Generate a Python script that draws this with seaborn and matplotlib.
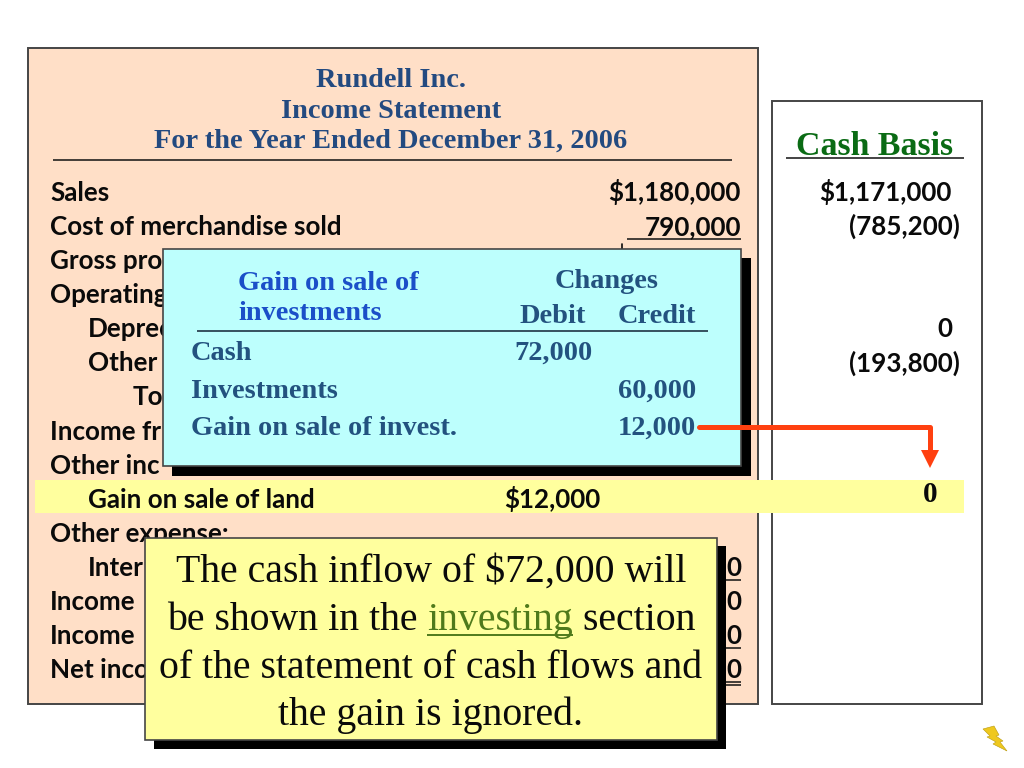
# income statement slide, cash basis column
import matplotlib
matplotlib.use("Agg")
import matplotlib.pyplot as plt
from matplotlib.patches import Rectangle, Polygon
import seaborn as sns

sns.set_theme(style="white")
SANS = "Lato"
SERIF = "Liberation Serif"

# Data (only what the boxes leave visible)
title_lines = ["Rundell Inc.", "Income Statement", "For the Year Ended December 31, 2006"]
row_labels = ["Sales", "Cost of merchandise sold", "Gross pro", "Operating",
              "Deprec", "Other", "Tot",
              "Income fr", "Other inc", "Gain on sale of land", "Other expense:",
              "Inter", "Income", "Income", "Net inco"]
row_indent = [0, 0, 0, 0, 1, 1, 2, 0, 0, 1, 0, 1, 0, 0, 0]
accrual_values = ["$1,180,000", "790,000", "", "", "", "", "", "", "", "", "",
                  "0", "0", "0", "0"]
underlined_rows = {1: 1, 11: 1, 13: 1, 14: 2}
cash_values = ["$1,171,000", "(785,200)", "", "", "0", "(193,800)"]
cash_right_pad = [1, 0, 0, 0, 1, 0]
entry_labels = ["Cash", "Investments", "Gain on sale of invest."]
entry_debit = ["72,000", "", ""]
entry_credit = ["", "60,000", "12,000"]
note_lines = ["The cash inflow of $72,000 will", None,
              "of the statement of cash flows and", "the gain is ignored."]
note_parts = ["be shown in the ", "investing", " section"]

PEACH = "#FFDFC7"
EDGE = "#454545"
CYAN = "#BDFFFD"
YELLOW = "#FFFF9E"
NAVY = "#23527F"
TITLE = "#234A80"
ORANGE = "#FF4010"
INK = "#0A0A0A"
ROW_SIZE = 18.7
ENTRY_SIZE = 20.4
NOTE_SIZE = 28.6

fig = plt.figure(figsize=(10.24, 7.68), dpi=100, facecolor="white")
ax = fig.add_axes([0, 0, 1, 1])
ax.set_xlim(0, 1024)
ax.set_ylim(768, 0)
ax.axis("off")


def box(x0, y0, x1, y1, fc, ec=EDGE, lw=1.4, z=1):
    ax.add_patch(Rectangle((x0, y0), x1 - x0, y1 - y0, fc=fc, ec=ec, lw=lw, zorder=z))


def hline(x0, x1, y, color="#111111", lw=1.1, z=3):
    ax.plot([x0, x1], [y, y], color=color, lw=lw, zorder=z, solid_capstyle="butt")


# main panels
box(28, 48, 758, 704, PEACH)
box(772, 101, 982, 704, "white")
box(35, 480, 964, 513, YELLOW, ec="none", lw=0, z=2)

# heading
for i, line in enumerate(title_lines):
    ax.text(391, 87 + i * 30.5, line, ha="center", va="baseline", family=SERIF,
            weight="bold", fontsize=20.4, color=TITLE, zorder=3)
hline(53, 732, 160)
ax.text(875, 155, "Cash Basis", ha="center", va="baseline", family=SERIF, weight="bold",
        fontsize=24.4, color="#0A6B14", zorder=3)
hline(786, 964, 158)

# statement rows
for i, (label, ind, val) in enumerate(zip(row_labels, row_indent, accrual_values)):
    y = 201 + i * 34.08
    ax.text(50 + [0, 38, 83][ind], y, label, ha="left", va="baseline", family=SANS,
            weight="bold", fontsize=ROW_SIZE, color=INK, zorder=3)
    if val:
        ax.text(741, y, val, ha="right", va="baseline", family=SANS, weight="bold",
                fontsize=ROW_SIZE, color=INK, zorder=3)
    if i in underlined_rows:
        hline(627, 741, y + 4)
        if underlined_rows[i] == 2:
            hline(627, 741, y + 7)
ax.text(600, 201 + 9 * 34.08, "$12,000", ha="right", va="baseline", family=SANS,
        weight="bold", fontsize=ROW_SIZE, color=INK, zorder=3)
# top of a dollar sign sticking out above the entry box
ax.plot([622, 622], [244, 249], color=INK, lw=1.2, zorder=3)

# cash column
for i, (val, pad) in enumerate(zip(cash_values, cash_right_pad)):
    if val:
        ax.text(960 - pad * 8, 201 + i * 34.08, val, ha="right", va="baseline", family=SANS,
                weight="bold", fontsize=ROW_SIZE, color=INK, zorder=3)
ax.text(930, 502, "0", ha="center", va="baseline", family=SERIF, weight="bold",
        fontsize=21, color=INK, zorder=3)

# journal entry box
box(172, 258, 751, 476, "black", ec="none", lw=0, z=4)
box(163, 249, 741, 466, CYAN, lw=1.2, z=5)
for y, line in zip([290, 320], ["Gain on sale of", "investments"]):
    ax.text(238, y, line, ha="left", va="baseline", family=SERIF, weight="bold",
            fontsize=ENTRY_SIZE, color="#1B4FC8", zorder=6)
for x, y, head in [(607, 288, "Changes"), (553, 323, "Debit"), (657, 323, "Credit")]:
    ax.text(x, y, head, ha="center", va="baseline", family=SERIF, weight="bold",
            fontsize=ENTRY_SIZE, color=NAVY, zorder=6)
hline(197, 708, 331, color="#112233", z=6)
for y, label, deb, cred in zip([360, 398, 435], entry_labels, entry_debit, entry_credit):
    ax.text(191, y, label, ha="left", va="baseline", family=SERIF, weight="bold",
            fontsize=ENTRY_SIZE, color=NAVY, zorder=6)
    if deb:
        ax.text(593, y, deb, ha="right", va="baseline", family=SERIF, weight="bold",
                fontsize=ENTRY_SIZE, color=NAVY, zorder=6)
    if cred:
        ax.text(696, y, cred, ha="right", va="baseline", family=SERIF, weight="bold",
                fontsize=ENTRY_SIZE, color=NAVY, zorder=6)

# arrow from the gain to the cash column
ax.plot([699, 930, 930], [427, 427, 452], color=ORANGE, lw=3.6, zorder=7,
        solid_capstyle="round", solid_joinstyle="round")
ax.add_patch(Polygon([(921, 450), (939, 450), (930, 468)], fc=ORANGE, ec="none", zorder=7))

# note box
box(154, 546, 726, 749, "black", ec="none", lw=0, z=8)
box(145, 538, 717, 740, YELLOW, lw=1.2, z=9)
for i, line in enumerate(note_lines):
    if line is not None:
        ax.text(431, 582 + i * 47.8, line, ha="center", va="baseline", family=SERIF,
                fontsize=NOTE_SIZE, color=INK, zorder=10)

# middle line has a green underlined word, so lay it out by measured widths
renderer = fig.canvas.get_renderer()
colors = [INK, "#4F7A1C", INK]
y_mid = 582 + 47.8
pieces = []
for part, col in zip(note_parts, colors):
    t = ax.text(0, y_mid, part.replace(" ", "\u00a0"), ha="left", va="baseline", family=SERIF,
                fontsize=NOTE_SIZE, color=col, zorder=10)
    pieces.append(t)
widths = [t.get_window_extent(renderer).width for t in pieces]
x = 431 - sum(widths) / 2
for t, w, part in zip(pieces, widths, note_parts):
    t.set_x(x)
    if part == "investing":
        hline(x, x + w, y_mid + 5, color="#4F7A1C", lw=1.4, z=10)
    x += w

# little lightning bolt, bottom right corner
ax.add_patch(Polygon([(983, 729), (994, 726), (999, 735), (996, 736), (1003, 741), (1000, 742),
                      (1007, 751), (993, 744), (996, 742), (987, 737), (990, 736)],
                     fc="#EFC81E", ec="#B89A10", lw=0.4, zorder=3))

fig.savefig("out.png", dpi=100)
